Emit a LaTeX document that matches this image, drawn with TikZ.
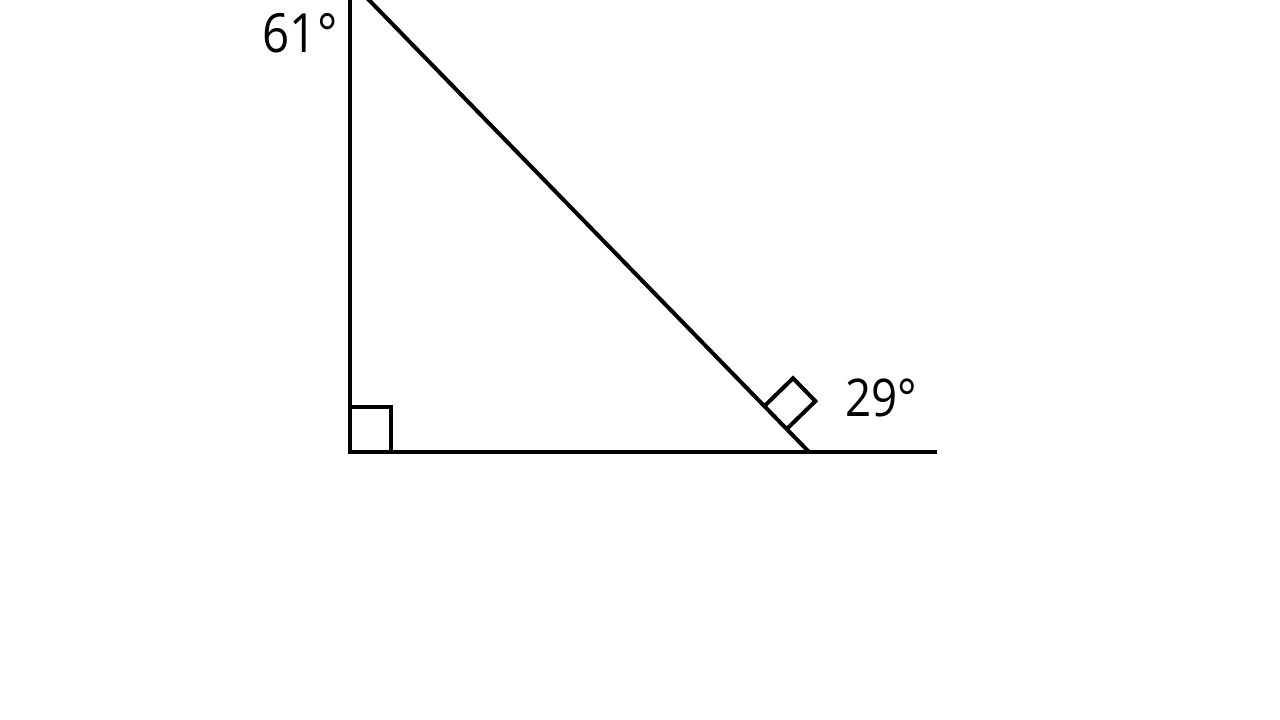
\documentclass[tikz,border=0pt]{standalone}
\usepackage{fontspec}
\setmainfont{Open Sans}
\newfontfamily\labelfont[FakeStretch=0.88]{Open Sans}
\begin{document}
\begin{tikzpicture}[x=1pt,y=1pt,line width=4pt]
\useasboundingbox (0,0) rectangle (1280,720);
\clip (0,0) rectangle (1280,720);

% corners of the triangle
\coordinate (A) at (350,739.5);
\coordinate (B) at (350,268);
\coordinate (C) at (809,268);
\coordinate (E) at (937,268);

%%%%%%%%%%%%%%%%%%%% Triangle %%%%%%%%%%%%%%%%%%%%%%%%%%
\draw (A) -- (B) -- (E);
\draw (A) -- (C);

%right angle marks
\draw (B) rectangle ++(41,45);
\begin{scope}[shift={(C)}, rotate=134.23]
    \draw (32,0) -- (32,-40) -- (64,-40) -- (64,0);
\end{scope}

%%%%%%%%%%%%%%%%%%%% Labels %%%%%%%%%%%%%%%%%%%%%%%%%%
\node[font=\labelfont\fontsize{54}{60}\selectfont, inner sep=0] (t61) at (300,687) {61°};
\node[font=\labelfont\fontsize{52}{60}\selectfont, inner sep=0] (t29) at (881,322) {29°};

\end{tikzpicture}
\end{document}
